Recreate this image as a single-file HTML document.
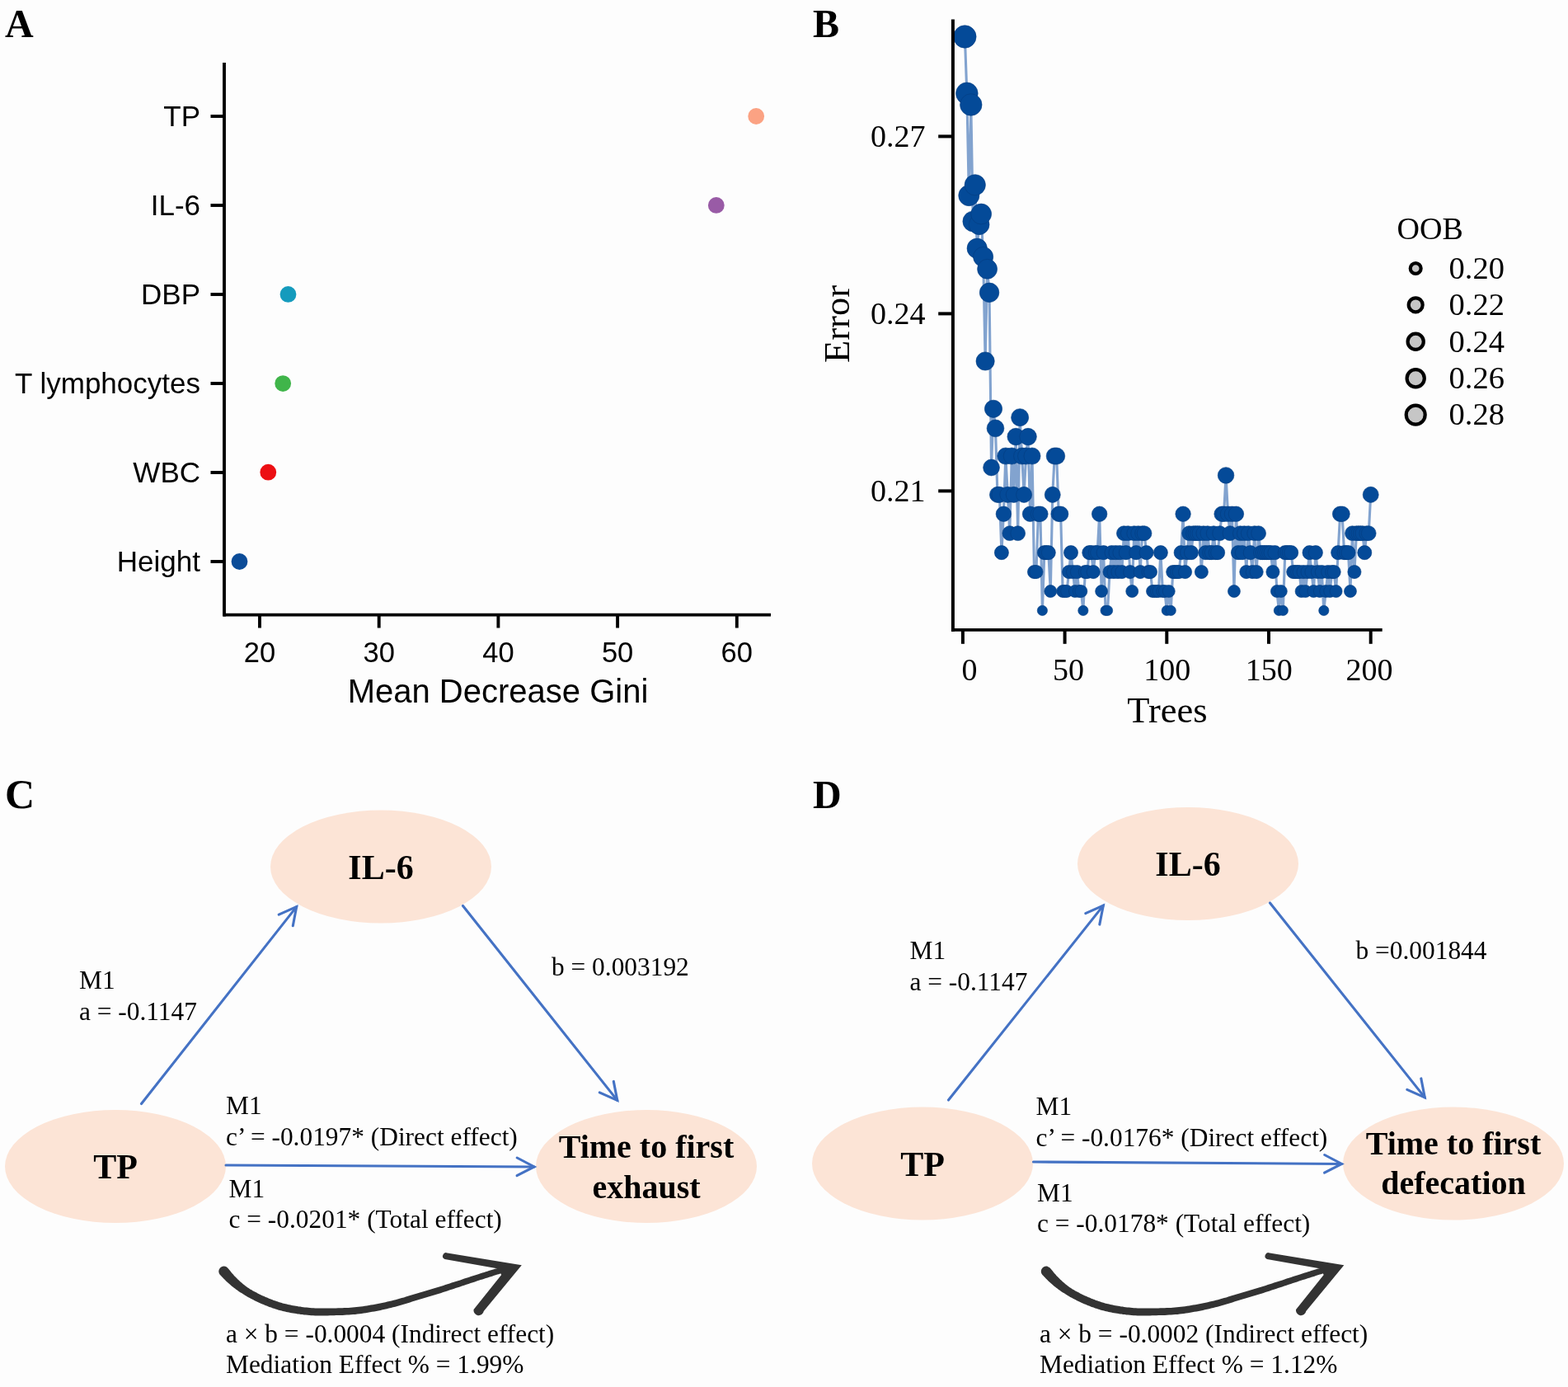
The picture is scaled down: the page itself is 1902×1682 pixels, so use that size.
<!DOCTYPE html>
<html><head><meta charset="utf-8"><title>Figure</title>
<style>html,body{margin:0;padding:0;background:#fdfdfd;} svg{display:block;}</style></head>
<body><svg width="1902" height="1682" viewBox="0 0 1902 1682">
<rect width="1902" height="1682" fill="#fdfdfd"/>
<text x="6" y="45" font-family="'Liberation Serif', 'Times New Roman', serif" font-weight="bold" font-size="48">A</text>
<line x1="272.0" y1="76" x2="272.0" y2="747.5" stroke="#000" stroke-width="3.9"/>
<line x1="270.7" y1="745.6" x2="935" y2="745.6" stroke="#000" stroke-width="3.9"/>
<line x1="255.5" y1="141.0" x2="272.0" y2="141.0" stroke="#000" stroke-width="3.9"/>
<text x="243" y="153.3" text-anchor="end" font-family="'Liberation Sans', Arial, sans-serif" font-size="35">TP</text>
<line x1="255.5" y1="249.0" x2="272.0" y2="249.0" stroke="#000" stroke-width="3.9"/>
<text x="243" y="261.3" text-anchor="end" font-family="'Liberation Sans', Arial, sans-serif" font-size="35">IL-6</text>
<line x1="255.5" y1="357.0" x2="272.0" y2="357.0" stroke="#000" stroke-width="3.9"/>
<text x="243" y="369.3" text-anchor="end" font-family="'Liberation Sans', Arial, sans-serif" font-size="35">DBP</text>
<line x1="255.5" y1="465.0" x2="272.0" y2="465.0" stroke="#000" stroke-width="3.9"/>
<text x="243" y="477.3" text-anchor="end" font-family="'Liberation Sans', Arial, sans-serif" font-size="35">T lymphocytes</text>
<line x1="255.5" y1="573.0" x2="272.0" y2="573.0" stroke="#000" stroke-width="3.9"/>
<text x="243" y="585.3" text-anchor="end" font-family="'Liberation Sans', Arial, sans-serif" font-size="35">WBC</text>
<line x1="255.5" y1="681.0" x2="272.0" y2="681.0" stroke="#000" stroke-width="3.9"/>
<text x="243" y="693.3" text-anchor="end" font-family="'Liberation Sans', Arial, sans-serif" font-size="35">Height</text>
<line x1="315.0" y1="745.6" x2="315.0" y2="761.5" stroke="#000" stroke-width="3.9"/>
<text x="315.0" y="802.5" text-anchor="middle" font-family="'Liberation Sans', Arial, sans-serif" font-size="34.5">20</text>
<line x1="459.7" y1="745.6" x2="459.7" y2="761.5" stroke="#000" stroke-width="3.9"/>
<text x="459.7" y="802.5" text-anchor="middle" font-family="'Liberation Sans', Arial, sans-serif" font-size="34.5">30</text>
<line x1="604.4" y1="745.6" x2="604.4" y2="761.5" stroke="#000" stroke-width="3.9"/>
<text x="604.4" y="802.5" text-anchor="middle" font-family="'Liberation Sans', Arial, sans-serif" font-size="34.5">40</text>
<line x1="749.1" y1="745.6" x2="749.1" y2="761.5" stroke="#000" stroke-width="3.9"/>
<text x="749.1" y="802.5" text-anchor="middle" font-family="'Liberation Sans', Arial, sans-serif" font-size="34.5">50</text>
<line x1="893.8" y1="745.6" x2="893.8" y2="761.5" stroke="#000" stroke-width="3.9"/>
<text x="893.8" y="802.5" text-anchor="middle" font-family="'Liberation Sans', Arial, sans-serif" font-size="34.5">60</text>
<text x="604" y="851.6" text-anchor="middle" font-family="'Liberation Sans', Arial, sans-serif" font-size="40">Mean Decrease Gini</text>
<circle cx="917.2" cy="141.0" r="9.9" fill="#fba283"/>
<circle cx="868.8" cy="248.9" r="9.9" fill="#995ba6"/>
<circle cx="349.5" cy="356.9" r="9.9" fill="#159bbd"/>
<circle cx="343.2" cy="465.1" r="9.9" fill="#40b54a"/>
<circle cx="325.3" cy="572.7" r="9.9" fill="#ec0f13"/>
<circle cx="290.5" cy="681.0" r="9.9" fill="#0b4c98"/>
<text x="986" y="45" font-family="'Liberation Serif', 'Times New Roman', serif" font-weight="bold" font-size="48">B</text>
<polyline points="1170.37,44.50 1172.85,113.30 1175.32,237.10 1177.80,127.00 1180.27,268.50 1182.74,224.30 1185.22,301.20 1187.69,272.30 1190.17,259.50 1192.64,311.50 1195.11,438.00 1197.59,326.30 1200.06,354.80 1202.54,567.00 1205.01,495.80 1207.48,519.40 1209.96,599.88 1212.43,599.88 1214.91,670.14 1217.38,623.30 1219.85,553.04 1222.33,599.88 1224.80,646.72 1227.28,553.04 1229.75,599.88 1232.22,529.62 1234.70,646.72 1237.17,506.20 1239.65,553.04 1242.12,599.88 1244.59,553.04 1247.07,529.62 1249.54,623.30 1252.02,553.04 1254.49,693.56 1256.96,693.56 1259.44,623.30 1261.91,623.30 1264.39,740.40 1266.86,670.14 1269.33,670.14 1271.81,670.14 1274.28,716.98 1276.76,599.88 1279.23,553.04 1281.70,553.04 1284.18,623.30 1286.65,623.30 1289.13,716.98 1291.60,716.98 1294.07,716.98 1296.55,693.56 1299.02,670.14 1301.50,693.56 1303.97,716.98 1306.44,693.56 1308.92,716.98 1311.39,716.98 1313.87,740.40 1316.34,693.56 1318.81,693.56 1321.29,670.14 1323.76,670.14 1326.24,693.56 1328.71,670.14 1331.18,670.14 1333.66,623.30 1336.13,716.98 1338.61,670.14 1341.08,740.40 1343.55,740.40 1346.03,693.56 1348.50,670.14 1350.98,693.56 1353.45,670.14 1355.92,693.56 1358.40,670.14 1360.87,693.56 1363.35,646.72 1365.82,670.14 1368.29,646.72 1370.77,693.56 1373.24,716.98 1375.72,646.72 1378.19,670.14 1380.66,646.72 1383.14,693.56 1385.61,646.72 1388.09,646.72 1390.56,670.14 1393.03,693.56 1395.51,693.56 1397.98,716.98 1400.46,716.98 1402.93,716.98 1405.40,716.98 1407.88,670.14 1410.35,716.98 1412.83,716.98 1415.30,740.40 1417.77,716.98 1420.25,740.40 1422.72,693.56 1425.20,693.56 1427.67,693.56 1430.14,693.56 1432.62,670.14 1435.09,623.30 1437.57,693.56 1440.04,670.14 1442.51,646.72 1444.99,670.14 1447.46,646.72 1449.94,646.72 1452.41,646.72 1454.88,646.72 1457.36,693.56 1459.83,646.72 1462.31,670.14 1464.78,646.72 1467.25,670.14 1469.73,670.14 1472.20,646.72 1474.68,670.14 1477.15,670.14 1479.62,646.72 1482.10,623.30 1484.57,623.30 1487.05,576.46 1489.52,623.30 1491.99,646.72 1494.47,623.30 1496.94,716.98 1499.42,623.30 1501.89,670.14 1504.36,646.72 1506.84,670.14 1509.31,646.72 1511.79,693.56 1514.26,646.72 1516.73,670.14 1519.21,693.56 1521.68,646.72 1524.16,693.56 1526.63,646.72 1529.10,670.14 1531.58,670.14 1534.05,670.14 1536.53,670.14 1539.00,670.14 1541.47,670.14 1543.95,693.56 1546.42,670.14 1548.90,716.98 1551.37,740.40 1553.84,716.98 1556.32,740.40 1558.79,670.14 1561.27,670.14 1563.74,670.14 1566.21,670.14 1568.69,693.56 1571.16,693.56 1573.64,693.56 1576.11,693.56 1578.58,716.98 1581.06,693.56 1583.53,716.98 1586.01,693.56 1588.48,670.14 1590.95,693.56 1593.43,716.98 1595.90,670.14 1598.38,693.56 1600.85,716.98 1603.32,693.56 1605.80,740.40 1608.27,716.98 1610.75,693.56 1613.22,716.98 1615.69,693.56 1618.17,693.56 1620.64,716.98 1623.12,670.14 1625.59,623.30 1628.06,623.30 1630.54,670.14 1633.01,670.14 1635.49,670.14 1637.96,716.98 1640.43,646.72 1642.91,693.56 1645.38,646.72 1647.86,646.72 1650.33,646.72 1652.80,646.72 1655.28,670.14 1657.75,646.72 1660.23,646.72 1662.70,599.88" fill="none" stroke="#82a3cf" stroke-width="3.1" stroke-linejoin="round"/>
<circle cx="1170.37" cy="44.50" r="13.71" fill="#044a98" stroke="#033d80" stroke-width="0.6"/>
<circle cx="1172.85" cy="113.30" r="13.32" fill="#044a98" stroke="#033d80" stroke-width="0.6"/>
<circle cx="1175.32" cy="237.10" r="12.57" fill="#044a98" stroke="#033d80" stroke-width="0.6"/>
<circle cx="1177.80" cy="127.00" r="13.24" fill="#044a98" stroke="#033d80" stroke-width="0.6"/>
<circle cx="1180.27" cy="268.50" r="12.37" fill="#044a98" stroke="#033d80" stroke-width="0.6"/>
<circle cx="1182.74" cy="224.30" r="12.65" fill="#044a98" stroke="#033d80" stroke-width="0.6"/>
<circle cx="1185.22" cy="301.20" r="12.15" fill="#044a98" stroke="#033d80" stroke-width="0.6"/>
<circle cx="1187.69" cy="272.30" r="12.34" fill="#044a98" stroke="#033d80" stroke-width="0.6"/>
<circle cx="1190.17" cy="259.50" r="12.43" fill="#044a98" stroke="#033d80" stroke-width="0.6"/>
<circle cx="1192.64" cy="311.50" r="12.07" fill="#044a98" stroke="#033d80" stroke-width="0.6"/>
<circle cx="1195.11" cy="438.00" r="11.12" fill="#044a98" stroke="#033d80" stroke-width="0.6"/>
<circle cx="1197.59" cy="326.30" r="11.97" fill="#044a98" stroke="#033d80" stroke-width="0.6"/>
<circle cx="1200.06" cy="354.80" r="11.77" fill="#044a98" stroke="#033d80" stroke-width="0.6"/>
<circle cx="1202.54" cy="567.00" r="9.91" fill="#044a98" stroke="#033d80" stroke-width="0.6"/>
<circle cx="1205.01" cy="495.80" r="10.62" fill="#044a98" stroke="#033d80" stroke-width="0.6"/>
<circle cx="1207.48" cy="519.40" r="10.39" fill="#044a98" stroke="#033d80" stroke-width="0.6"/>
<circle cx="1209.96" cy="599.88" r="9.53" fill="#044a98" stroke="#033d80" stroke-width="0.6"/>
<circle cx="1212.43" cy="599.88" r="9.53" fill="#044a98" stroke="#033d80" stroke-width="0.6"/>
<circle cx="1214.91" cy="670.14" r="8.53" fill="#044a98" stroke="#033d80" stroke-width="0.6"/>
<circle cx="1217.38" cy="623.30" r="9.23" fill="#044a98" stroke="#033d80" stroke-width="0.6"/>
<circle cx="1219.85" cy="553.04" r="10.06" fill="#044a98" stroke="#033d80" stroke-width="0.6"/>
<circle cx="1222.33" cy="599.88" r="9.53" fill="#044a98" stroke="#033d80" stroke-width="0.6"/>
<circle cx="1224.80" cy="646.72" r="8.90" fill="#044a98" stroke="#033d80" stroke-width="0.6"/>
<circle cx="1227.28" cy="553.04" r="10.06" fill="#044a98" stroke="#033d80" stroke-width="0.6"/>
<circle cx="1229.75" cy="599.88" r="9.53" fill="#044a98" stroke="#033d80" stroke-width="0.6"/>
<circle cx="1232.22" cy="529.62" r="10.29" fill="#044a98" stroke="#033d80" stroke-width="0.6"/>
<circle cx="1234.70" cy="646.72" r="8.90" fill="#044a98" stroke="#033d80" stroke-width="0.6"/>
<circle cx="1237.17" cy="506.20" r="10.52" fill="#044a98" stroke="#033d80" stroke-width="0.6"/>
<circle cx="1239.65" cy="553.04" r="10.06" fill="#044a98" stroke="#033d80" stroke-width="0.6"/>
<circle cx="1242.12" cy="599.88" r="9.53" fill="#044a98" stroke="#033d80" stroke-width="0.6"/>
<circle cx="1244.59" cy="553.04" r="10.06" fill="#044a98" stroke="#033d80" stroke-width="0.6"/>
<circle cx="1247.07" cy="529.62" r="10.29" fill="#044a98" stroke="#033d80" stroke-width="0.6"/>
<circle cx="1249.54" cy="623.30" r="9.23" fill="#044a98" stroke="#033d80" stroke-width="0.6"/>
<circle cx="1252.02" cy="553.04" r="10.06" fill="#044a98" stroke="#033d80" stroke-width="0.6"/>
<circle cx="1254.49" cy="693.56" r="8.09" fill="#044a98" stroke="#033d80" stroke-width="0.6"/>
<circle cx="1256.96" cy="693.56" r="8.09" fill="#044a98" stroke="#033d80" stroke-width="0.6"/>
<circle cx="1259.44" cy="623.30" r="9.23" fill="#044a98" stroke="#033d80" stroke-width="0.6"/>
<circle cx="1261.91" cy="623.30" r="9.23" fill="#044a98" stroke="#033d80" stroke-width="0.6"/>
<circle cx="1264.39" cy="740.40" r="6.12" fill="#044a98" stroke="#033d80" stroke-width="0.6"/>
<circle cx="1266.86" cy="670.14" r="8.53" fill="#044a98" stroke="#033d80" stroke-width="0.6"/>
<circle cx="1269.33" cy="670.14" r="8.53" fill="#044a98" stroke="#033d80" stroke-width="0.6"/>
<circle cx="1271.81" cy="670.14" r="8.53" fill="#044a98" stroke="#033d80" stroke-width="0.6"/>
<circle cx="1274.28" cy="716.98" r="7.51" fill="#044a98" stroke="#033d80" stroke-width="0.6"/>
<circle cx="1276.76" cy="599.88" r="9.53" fill="#044a98" stroke="#033d80" stroke-width="0.6"/>
<circle cx="1279.23" cy="553.04" r="10.06" fill="#044a98" stroke="#033d80" stroke-width="0.6"/>
<circle cx="1281.70" cy="553.04" r="10.06" fill="#044a98" stroke="#033d80" stroke-width="0.6"/>
<circle cx="1284.18" cy="623.30" r="9.23" fill="#044a98" stroke="#033d80" stroke-width="0.6"/>
<circle cx="1286.65" cy="623.30" r="9.23" fill="#044a98" stroke="#033d80" stroke-width="0.6"/>
<circle cx="1289.13" cy="716.98" r="7.51" fill="#044a98" stroke="#033d80" stroke-width="0.6"/>
<circle cx="1291.60" cy="716.98" r="7.51" fill="#044a98" stroke="#033d80" stroke-width="0.6"/>
<circle cx="1294.07" cy="716.98" r="7.51" fill="#044a98" stroke="#033d80" stroke-width="0.6"/>
<circle cx="1296.55" cy="693.56" r="8.09" fill="#044a98" stroke="#033d80" stroke-width="0.6"/>
<circle cx="1299.02" cy="670.14" r="8.53" fill="#044a98" stroke="#033d80" stroke-width="0.6"/>
<circle cx="1301.50" cy="693.56" r="8.09" fill="#044a98" stroke="#033d80" stroke-width="0.6"/>
<circle cx="1303.97" cy="716.98" r="7.51" fill="#044a98" stroke="#033d80" stroke-width="0.6"/>
<circle cx="1306.44" cy="693.56" r="8.09" fill="#044a98" stroke="#033d80" stroke-width="0.6"/>
<circle cx="1308.92" cy="716.98" r="7.51" fill="#044a98" stroke="#033d80" stroke-width="0.6"/>
<circle cx="1311.39" cy="716.98" r="7.51" fill="#044a98" stroke="#033d80" stroke-width="0.6"/>
<circle cx="1313.87" cy="740.40" r="6.12" fill="#044a98" stroke="#033d80" stroke-width="0.6"/>
<circle cx="1316.34" cy="693.56" r="8.09" fill="#044a98" stroke="#033d80" stroke-width="0.6"/>
<circle cx="1318.81" cy="693.56" r="8.09" fill="#044a98" stroke="#033d80" stroke-width="0.6"/>
<circle cx="1321.29" cy="670.14" r="8.53" fill="#044a98" stroke="#033d80" stroke-width="0.6"/>
<circle cx="1323.76" cy="670.14" r="8.53" fill="#044a98" stroke="#033d80" stroke-width="0.6"/>
<circle cx="1326.24" cy="693.56" r="8.09" fill="#044a98" stroke="#033d80" stroke-width="0.6"/>
<circle cx="1328.71" cy="670.14" r="8.53" fill="#044a98" stroke="#033d80" stroke-width="0.6"/>
<circle cx="1331.18" cy="670.14" r="8.53" fill="#044a98" stroke="#033d80" stroke-width="0.6"/>
<circle cx="1333.66" cy="623.30" r="9.23" fill="#044a98" stroke="#033d80" stroke-width="0.6"/>
<circle cx="1336.13" cy="716.98" r="7.51" fill="#044a98" stroke="#033d80" stroke-width="0.6"/>
<circle cx="1338.61" cy="670.14" r="8.53" fill="#044a98" stroke="#033d80" stroke-width="0.6"/>
<circle cx="1341.08" cy="740.40" r="6.12" fill="#044a98" stroke="#033d80" stroke-width="0.6"/>
<circle cx="1343.55" cy="740.40" r="6.12" fill="#044a98" stroke="#033d80" stroke-width="0.6"/>
<circle cx="1346.03" cy="693.56" r="8.09" fill="#044a98" stroke="#033d80" stroke-width="0.6"/>
<circle cx="1348.50" cy="670.14" r="8.53" fill="#044a98" stroke="#033d80" stroke-width="0.6"/>
<circle cx="1350.98" cy="693.56" r="8.09" fill="#044a98" stroke="#033d80" stroke-width="0.6"/>
<circle cx="1353.45" cy="670.14" r="8.53" fill="#044a98" stroke="#033d80" stroke-width="0.6"/>
<circle cx="1355.92" cy="693.56" r="8.09" fill="#044a98" stroke="#033d80" stroke-width="0.6"/>
<circle cx="1358.40" cy="670.14" r="8.53" fill="#044a98" stroke="#033d80" stroke-width="0.6"/>
<circle cx="1360.87" cy="693.56" r="8.09" fill="#044a98" stroke="#033d80" stroke-width="0.6"/>
<circle cx="1363.35" cy="646.72" r="8.90" fill="#044a98" stroke="#033d80" stroke-width="0.6"/>
<circle cx="1365.82" cy="670.14" r="8.53" fill="#044a98" stroke="#033d80" stroke-width="0.6"/>
<circle cx="1368.29" cy="646.72" r="8.90" fill="#044a98" stroke="#033d80" stroke-width="0.6"/>
<circle cx="1370.77" cy="693.56" r="8.09" fill="#044a98" stroke="#033d80" stroke-width="0.6"/>
<circle cx="1373.24" cy="716.98" r="7.51" fill="#044a98" stroke="#033d80" stroke-width="0.6"/>
<circle cx="1375.72" cy="646.72" r="8.90" fill="#044a98" stroke="#033d80" stroke-width="0.6"/>
<circle cx="1378.19" cy="670.14" r="8.53" fill="#044a98" stroke="#033d80" stroke-width="0.6"/>
<circle cx="1380.66" cy="646.72" r="8.90" fill="#044a98" stroke="#033d80" stroke-width="0.6"/>
<circle cx="1383.14" cy="693.56" r="8.09" fill="#044a98" stroke="#033d80" stroke-width="0.6"/>
<circle cx="1385.61" cy="646.72" r="8.90" fill="#044a98" stroke="#033d80" stroke-width="0.6"/>
<circle cx="1388.09" cy="646.72" r="8.90" fill="#044a98" stroke="#033d80" stroke-width="0.6"/>
<circle cx="1390.56" cy="670.14" r="8.53" fill="#044a98" stroke="#033d80" stroke-width="0.6"/>
<circle cx="1393.03" cy="693.56" r="8.09" fill="#044a98" stroke="#033d80" stroke-width="0.6"/>
<circle cx="1395.51" cy="693.56" r="8.09" fill="#044a98" stroke="#033d80" stroke-width="0.6"/>
<circle cx="1397.98" cy="716.98" r="7.51" fill="#044a98" stroke="#033d80" stroke-width="0.6"/>
<circle cx="1400.46" cy="716.98" r="7.51" fill="#044a98" stroke="#033d80" stroke-width="0.6"/>
<circle cx="1402.93" cy="716.98" r="7.51" fill="#044a98" stroke="#033d80" stroke-width="0.6"/>
<circle cx="1405.40" cy="716.98" r="7.51" fill="#044a98" stroke="#033d80" stroke-width="0.6"/>
<circle cx="1407.88" cy="670.14" r="8.53" fill="#044a98" stroke="#033d80" stroke-width="0.6"/>
<circle cx="1410.35" cy="716.98" r="7.51" fill="#044a98" stroke="#033d80" stroke-width="0.6"/>
<circle cx="1412.83" cy="716.98" r="7.51" fill="#044a98" stroke="#033d80" stroke-width="0.6"/>
<circle cx="1415.30" cy="740.40" r="6.12" fill="#044a98" stroke="#033d80" stroke-width="0.6"/>
<circle cx="1417.77" cy="716.98" r="7.51" fill="#044a98" stroke="#033d80" stroke-width="0.6"/>
<circle cx="1420.25" cy="740.40" r="6.12" fill="#044a98" stroke="#033d80" stroke-width="0.6"/>
<circle cx="1422.72" cy="693.56" r="8.09" fill="#044a98" stroke="#033d80" stroke-width="0.6"/>
<circle cx="1425.20" cy="693.56" r="8.09" fill="#044a98" stroke="#033d80" stroke-width="0.6"/>
<circle cx="1427.67" cy="693.56" r="8.09" fill="#044a98" stroke="#033d80" stroke-width="0.6"/>
<circle cx="1430.14" cy="693.56" r="8.09" fill="#044a98" stroke="#033d80" stroke-width="0.6"/>
<circle cx="1432.62" cy="670.14" r="8.53" fill="#044a98" stroke="#033d80" stroke-width="0.6"/>
<circle cx="1435.09" cy="623.30" r="9.23" fill="#044a98" stroke="#033d80" stroke-width="0.6"/>
<circle cx="1437.57" cy="693.56" r="8.09" fill="#044a98" stroke="#033d80" stroke-width="0.6"/>
<circle cx="1440.04" cy="670.14" r="8.53" fill="#044a98" stroke="#033d80" stroke-width="0.6"/>
<circle cx="1442.51" cy="646.72" r="8.90" fill="#044a98" stroke="#033d80" stroke-width="0.6"/>
<circle cx="1444.99" cy="670.14" r="8.53" fill="#044a98" stroke="#033d80" stroke-width="0.6"/>
<circle cx="1447.46" cy="646.72" r="8.90" fill="#044a98" stroke="#033d80" stroke-width="0.6"/>
<circle cx="1449.94" cy="646.72" r="8.90" fill="#044a98" stroke="#033d80" stroke-width="0.6"/>
<circle cx="1452.41" cy="646.72" r="8.90" fill="#044a98" stroke="#033d80" stroke-width="0.6"/>
<circle cx="1454.88" cy="646.72" r="8.90" fill="#044a98" stroke="#033d80" stroke-width="0.6"/>
<circle cx="1457.36" cy="693.56" r="8.09" fill="#044a98" stroke="#033d80" stroke-width="0.6"/>
<circle cx="1459.83" cy="646.72" r="8.90" fill="#044a98" stroke="#033d80" stroke-width="0.6"/>
<circle cx="1462.31" cy="670.14" r="8.53" fill="#044a98" stroke="#033d80" stroke-width="0.6"/>
<circle cx="1464.78" cy="646.72" r="8.90" fill="#044a98" stroke="#033d80" stroke-width="0.6"/>
<circle cx="1467.25" cy="670.14" r="8.53" fill="#044a98" stroke="#033d80" stroke-width="0.6"/>
<circle cx="1469.73" cy="670.14" r="8.53" fill="#044a98" stroke="#033d80" stroke-width="0.6"/>
<circle cx="1472.20" cy="646.72" r="8.90" fill="#044a98" stroke="#033d80" stroke-width="0.6"/>
<circle cx="1474.68" cy="670.14" r="8.53" fill="#044a98" stroke="#033d80" stroke-width="0.6"/>
<circle cx="1477.15" cy="670.14" r="8.53" fill="#044a98" stroke="#033d80" stroke-width="0.6"/>
<circle cx="1479.62" cy="646.72" r="8.90" fill="#044a98" stroke="#033d80" stroke-width="0.6"/>
<circle cx="1482.10" cy="623.30" r="9.23" fill="#044a98" stroke="#033d80" stroke-width="0.6"/>
<circle cx="1484.57" cy="623.30" r="9.23" fill="#044a98" stroke="#033d80" stroke-width="0.6"/>
<circle cx="1487.05" cy="576.46" r="9.80" fill="#044a98" stroke="#033d80" stroke-width="0.6"/>
<circle cx="1489.52" cy="623.30" r="9.23" fill="#044a98" stroke="#033d80" stroke-width="0.6"/>
<circle cx="1491.99" cy="646.72" r="8.90" fill="#044a98" stroke="#033d80" stroke-width="0.6"/>
<circle cx="1494.47" cy="623.30" r="9.23" fill="#044a98" stroke="#033d80" stroke-width="0.6"/>
<circle cx="1496.94" cy="716.98" r="7.51" fill="#044a98" stroke="#033d80" stroke-width="0.6"/>
<circle cx="1499.42" cy="623.30" r="9.23" fill="#044a98" stroke="#033d80" stroke-width="0.6"/>
<circle cx="1501.89" cy="670.14" r="8.53" fill="#044a98" stroke="#033d80" stroke-width="0.6"/>
<circle cx="1504.36" cy="646.72" r="8.90" fill="#044a98" stroke="#033d80" stroke-width="0.6"/>
<circle cx="1506.84" cy="670.14" r="8.53" fill="#044a98" stroke="#033d80" stroke-width="0.6"/>
<circle cx="1509.31" cy="646.72" r="8.90" fill="#044a98" stroke="#033d80" stroke-width="0.6"/>
<circle cx="1511.79" cy="693.56" r="8.09" fill="#044a98" stroke="#033d80" stroke-width="0.6"/>
<circle cx="1514.26" cy="646.72" r="8.90" fill="#044a98" stroke="#033d80" stroke-width="0.6"/>
<circle cx="1516.73" cy="670.14" r="8.53" fill="#044a98" stroke="#033d80" stroke-width="0.6"/>
<circle cx="1519.21" cy="693.56" r="8.09" fill="#044a98" stroke="#033d80" stroke-width="0.6"/>
<circle cx="1521.68" cy="646.72" r="8.90" fill="#044a98" stroke="#033d80" stroke-width="0.6"/>
<circle cx="1524.16" cy="693.56" r="8.09" fill="#044a98" stroke="#033d80" stroke-width="0.6"/>
<circle cx="1526.63" cy="646.72" r="8.90" fill="#044a98" stroke="#033d80" stroke-width="0.6"/>
<circle cx="1529.10" cy="670.14" r="8.53" fill="#044a98" stroke="#033d80" stroke-width="0.6"/>
<circle cx="1531.58" cy="670.14" r="8.53" fill="#044a98" stroke="#033d80" stroke-width="0.6"/>
<circle cx="1534.05" cy="670.14" r="8.53" fill="#044a98" stroke="#033d80" stroke-width="0.6"/>
<circle cx="1536.53" cy="670.14" r="8.53" fill="#044a98" stroke="#033d80" stroke-width="0.6"/>
<circle cx="1539.00" cy="670.14" r="8.53" fill="#044a98" stroke="#033d80" stroke-width="0.6"/>
<circle cx="1541.47" cy="670.14" r="8.53" fill="#044a98" stroke="#033d80" stroke-width="0.6"/>
<circle cx="1543.95" cy="693.56" r="8.09" fill="#044a98" stroke="#033d80" stroke-width="0.6"/>
<circle cx="1546.42" cy="670.14" r="8.53" fill="#044a98" stroke="#033d80" stroke-width="0.6"/>
<circle cx="1548.90" cy="716.98" r="7.51" fill="#044a98" stroke="#033d80" stroke-width="0.6"/>
<circle cx="1551.37" cy="740.40" r="6.12" fill="#044a98" stroke="#033d80" stroke-width="0.6"/>
<circle cx="1553.84" cy="716.98" r="7.51" fill="#044a98" stroke="#033d80" stroke-width="0.6"/>
<circle cx="1556.32" cy="740.40" r="6.12" fill="#044a98" stroke="#033d80" stroke-width="0.6"/>
<circle cx="1558.79" cy="670.14" r="8.53" fill="#044a98" stroke="#033d80" stroke-width="0.6"/>
<circle cx="1561.27" cy="670.14" r="8.53" fill="#044a98" stroke="#033d80" stroke-width="0.6"/>
<circle cx="1563.74" cy="670.14" r="8.53" fill="#044a98" stroke="#033d80" stroke-width="0.6"/>
<circle cx="1566.21" cy="670.14" r="8.53" fill="#044a98" stroke="#033d80" stroke-width="0.6"/>
<circle cx="1568.69" cy="693.56" r="8.09" fill="#044a98" stroke="#033d80" stroke-width="0.6"/>
<circle cx="1571.16" cy="693.56" r="8.09" fill="#044a98" stroke="#033d80" stroke-width="0.6"/>
<circle cx="1573.64" cy="693.56" r="8.09" fill="#044a98" stroke="#033d80" stroke-width="0.6"/>
<circle cx="1576.11" cy="693.56" r="8.09" fill="#044a98" stroke="#033d80" stroke-width="0.6"/>
<circle cx="1578.58" cy="716.98" r="7.51" fill="#044a98" stroke="#033d80" stroke-width="0.6"/>
<circle cx="1581.06" cy="693.56" r="8.09" fill="#044a98" stroke="#033d80" stroke-width="0.6"/>
<circle cx="1583.53" cy="716.98" r="7.51" fill="#044a98" stroke="#033d80" stroke-width="0.6"/>
<circle cx="1586.01" cy="693.56" r="8.09" fill="#044a98" stroke="#033d80" stroke-width="0.6"/>
<circle cx="1588.48" cy="670.14" r="8.53" fill="#044a98" stroke="#033d80" stroke-width="0.6"/>
<circle cx="1590.95" cy="693.56" r="8.09" fill="#044a98" stroke="#033d80" stroke-width="0.6"/>
<circle cx="1593.43" cy="716.98" r="7.51" fill="#044a98" stroke="#033d80" stroke-width="0.6"/>
<circle cx="1595.90" cy="670.14" r="8.53" fill="#044a98" stroke="#033d80" stroke-width="0.6"/>
<circle cx="1598.38" cy="693.56" r="8.09" fill="#044a98" stroke="#033d80" stroke-width="0.6"/>
<circle cx="1600.85" cy="716.98" r="7.51" fill="#044a98" stroke="#033d80" stroke-width="0.6"/>
<circle cx="1603.32" cy="693.56" r="8.09" fill="#044a98" stroke="#033d80" stroke-width="0.6"/>
<circle cx="1605.80" cy="740.40" r="6.12" fill="#044a98" stroke="#033d80" stroke-width="0.6"/>
<circle cx="1608.27" cy="716.98" r="7.51" fill="#044a98" stroke="#033d80" stroke-width="0.6"/>
<circle cx="1610.75" cy="693.56" r="8.09" fill="#044a98" stroke="#033d80" stroke-width="0.6"/>
<circle cx="1613.22" cy="716.98" r="7.51" fill="#044a98" stroke="#033d80" stroke-width="0.6"/>
<circle cx="1615.69" cy="693.56" r="8.09" fill="#044a98" stroke="#033d80" stroke-width="0.6"/>
<circle cx="1618.17" cy="693.56" r="8.09" fill="#044a98" stroke="#033d80" stroke-width="0.6"/>
<circle cx="1620.64" cy="716.98" r="7.51" fill="#044a98" stroke="#033d80" stroke-width="0.6"/>
<circle cx="1623.12" cy="670.14" r="8.53" fill="#044a98" stroke="#033d80" stroke-width="0.6"/>
<circle cx="1625.59" cy="623.30" r="9.23" fill="#044a98" stroke="#033d80" stroke-width="0.6"/>
<circle cx="1628.06" cy="623.30" r="9.23" fill="#044a98" stroke="#033d80" stroke-width="0.6"/>
<circle cx="1630.54" cy="670.14" r="8.53" fill="#044a98" stroke="#033d80" stroke-width="0.6"/>
<circle cx="1633.01" cy="670.14" r="8.53" fill="#044a98" stroke="#033d80" stroke-width="0.6"/>
<circle cx="1635.49" cy="670.14" r="8.53" fill="#044a98" stroke="#033d80" stroke-width="0.6"/>
<circle cx="1637.96" cy="716.98" r="7.51" fill="#044a98" stroke="#033d80" stroke-width="0.6"/>
<circle cx="1640.43" cy="646.72" r="8.90" fill="#044a98" stroke="#033d80" stroke-width="0.6"/>
<circle cx="1642.91" cy="693.56" r="8.09" fill="#044a98" stroke="#033d80" stroke-width="0.6"/>
<circle cx="1645.38" cy="646.72" r="8.90" fill="#044a98" stroke="#033d80" stroke-width="0.6"/>
<circle cx="1647.86" cy="646.72" r="8.90" fill="#044a98" stroke="#033d80" stroke-width="0.6"/>
<circle cx="1650.33" cy="646.72" r="8.90" fill="#044a98" stroke="#033d80" stroke-width="0.6"/>
<circle cx="1652.80" cy="646.72" r="8.90" fill="#044a98" stroke="#033d80" stroke-width="0.6"/>
<circle cx="1655.28" cy="670.14" r="8.53" fill="#044a98" stroke="#033d80" stroke-width="0.6"/>
<circle cx="1657.75" cy="646.72" r="8.90" fill="#044a98" stroke="#033d80" stroke-width="0.6"/>
<circle cx="1660.23" cy="646.72" r="8.90" fill="#044a98" stroke="#033d80" stroke-width="0.6"/>
<circle cx="1662.70" cy="599.88" r="9.53" fill="#044a98" stroke="#033d80" stroke-width="0.6"/>
<line x1="1155.9" y1="23.5" x2="1155.9" y2="765.8" stroke="#000" stroke-width="4"/>
<line x1="1154" y1="763.9" x2="1676.7" y2="763.9" stroke="#000" stroke-width="3.8"/>
<line x1="1138.2" y1="165.4" x2="1156" y2="165.4" stroke="#000" stroke-width="4"/>
<text x="1122.5" y="178.3" text-anchor="end" font-family="'Liberation Serif', 'Times New Roman', serif" font-size="38">0.27</text>
<line x1="1138.2" y1="380.4" x2="1156" y2="380.4" stroke="#000" stroke-width="4"/>
<text x="1122.5" y="393.3" text-anchor="end" font-family="'Liberation Serif', 'Times New Roman', serif" font-size="38">0.24</text>
<line x1="1138.2" y1="595.4" x2="1156" y2="595.4" stroke="#000" stroke-width="4"/>
<text x="1122.5" y="608.3" text-anchor="end" font-family="'Liberation Serif', 'Times New Roman', serif" font-size="38">0.21</text>
<line x1="1167.9" y1="763.9" x2="1167.9" y2="780.8" stroke="#000" stroke-width="4"/>
<text x="1176" y="825" text-anchor="middle" font-family="'Liberation Serif', 'Times New Roman', serif" font-size="38">0</text>
<line x1="1291.6" y1="763.9" x2="1291.6" y2="780.8" stroke="#000" stroke-width="4"/>
<text x="1296" y="825" text-anchor="middle" font-family="'Liberation Serif', 'Times New Roman', serif" font-size="38">50</text>
<line x1="1415.3" y1="763.9" x2="1415.3" y2="780.8" stroke="#000" stroke-width="4"/>
<text x="1415.8" y="825" text-anchor="middle" font-family="'Liberation Serif', 'Times New Roman', serif" font-size="38">100</text>
<line x1="1539.0" y1="763.9" x2="1539.0" y2="780.8" stroke="#000" stroke-width="4"/>
<text x="1539.2" y="825" text-anchor="middle" font-family="'Liberation Serif', 'Times New Roman', serif" font-size="38">150</text>
<line x1="1662.7" y1="763.9" x2="1662.7" y2="780.8" stroke="#000" stroke-width="4"/>
<text x="1661" y="825" text-anchor="middle" font-family="'Liberation Serif', 'Times New Roman', serif" font-size="38">200</text>
<text x="1416" y="875.5" text-anchor="middle" font-family="'Liberation Serif', 'Times New Roman', serif" font-size="44.5">Trees</text>
<text transform="translate(1029.5,393) rotate(-90)" text-anchor="middle" font-family="'Liberation Serif', 'Times New Roman', serif" font-size="44.5">Error</text>
<text x="1694.5" y="290" font-family="'Liberation Serif', 'Times New Roman', serif" font-size="38">OOB</text>
<circle cx="1717.2" cy="325.5" r="6.45" fill="#c6c6c6" stroke="#000" stroke-width="4.2"/>
<text x="1757.5" y="337.8" font-family="'Liberation Serif', 'Times New Roman', serif" font-size="38.5">0.20</text>
<circle cx="1717.2" cy="369.8" r="8.50" fill="#c6c6c6" stroke="#000" stroke-width="4.2"/>
<text x="1757.5" y="382.1" font-family="'Liberation Serif', 'Times New Roman', serif" font-size="38.5">0.22</text>
<circle cx="1717.2" cy="414.2" r="9.60" fill="#c6c6c6" stroke="#000" stroke-width="4.2"/>
<text x="1757.5" y="426.5" font-family="'Liberation Serif', 'Times New Roman', serif" font-size="38.5">0.24</text>
<circle cx="1717.2" cy="458.7" r="10.60" fill="#c6c6c6" stroke="#000" stroke-width="4.2"/>
<text x="1757.5" y="471.0" font-family="'Liberation Serif', 'Times New Roman', serif" font-size="38.5">0.26</text>
<circle cx="1717.2" cy="503.1" r="11.50" fill="#c6c6c6" stroke="#000" stroke-width="4.2"/>
<text x="1757.5" y="515.4" font-family="'Liberation Serif', 'Times New Roman', serif" font-size="38.5">0.28</text>
<text x="6" y="979.5" font-family="'Liberation Serif', 'Times New Roman', serif" font-weight="bold" font-size="50">C</text>
<ellipse cx="462" cy="1051" rx="134" ry="68.5" fill="#fce4d6"/>
<ellipse cx="140" cy="1414.5" rx="134" ry="68.5" fill="#fce4d6"/>
<ellipse cx="784" cy="1414.5" rx="134" ry="68.5" fill="#fce4d6"/>
<text x="462" y="1065.5" text-anchor="middle" font-family="'Liberation Serif', 'Times New Roman', serif" font-weight="bold" font-size="42">IL-6</text>
<text x="140" y="1429.0" text-anchor="middle" font-family="'Liberation Serif', 'Times New Roman', serif" font-weight="bold" font-size="42">TP</text>
<text x="784" y="1404" text-anchor="middle" font-family="'Liberation Serif', 'Times New Roman', serif" font-weight="bold" font-size="40">Time to first</text>
<text x="784" y="1452.5" text-anchor="middle" font-family="'Liberation Serif', 'Times New Roman', serif" font-weight="bold" font-size="40">exhaust</text>
<line x1="171.5" y1="1338.5" x2="359.7" y2="1099.6" stroke="#4472c4" stroke-width="3.1" stroke-linecap="round"/>
<path d="M338.2 1109.2 L359.7 1099.6 L355.3 1122.7" fill="none" stroke="#4472c4" stroke-width="3.1" stroke-linecap="round" stroke-linejoin="miter" stroke-miterlimit="10"/>
<line x1="561.5" y1="1098.5" x2="748.8" y2="1334.4" stroke="#4472c4" stroke-width="3.1" stroke-linecap="round"/>
<path d="M744.3 1311.4 L748.8 1334.4 L727.3 1324.9" fill="none" stroke="#4472c4" stroke-width="3.1" stroke-linecap="round" stroke-linejoin="miter" stroke-miterlimit="10"/>
<line x1="274" y1="1413" x2="648.0" y2="1415.0" stroke="#4472c4" stroke-width="3.1" stroke-linecap="round"/>
<path d="M627.2 1404.0 L648.0 1415.0 L627.1 1425.7" fill="none" stroke="#4472c4" stroke-width="3.1" stroke-linecap="round" stroke-linejoin="miter" stroke-miterlimit="10"/>
<text x="96" y="1199" font-family="'Liberation Serif', 'Times New Roman', serif" font-size="31.4">M1</text>
<text x="96" y="1236.5" font-family="'Liberation Serif', 'Times New Roman', serif" font-size="31.4">a = -0.1147</text>
<text x="669" y="1182.5" font-family="'Liberation Serif', 'Times New Roman', serif" font-size="31.4">b = 0.003192</text>
<text x="274" y="1351" font-family="'Liberation Serif', 'Times New Roman', serif" font-size="31.4">M1</text>
<text x="274" y="1389" font-family="'Liberation Serif', 'Times New Roman', serif" font-size="31.4">c’ = -0.0197* (Direct effect)</text>
<text x="277.5" y="1451.5" font-family="'Liberation Serif', 'Times New Roman', serif" font-size="31.4">M1</text>
<text x="277.5" y="1489" font-family="'Liberation Serif', 'Times New Roman', serif" font-size="31.4">c = -0.0201* (Total effect)</text>
<text x="274" y="1627.5" font-family="'Liberation Serif', 'Times New Roman', serif" font-size="31.4">a × b = -0.0004 (Indirect effect)</text>
<text x="274" y="1665" font-family="'Liberation Serif', 'Times New Roman', serif" font-size="31.4">Mediation Effect % = 1.99%</text>
<path d="M266.9 1546.0 L267.5 1546.6 L268.2 1547.3 L269.1 1548.2 L270.1 1549.3 L271.2 1550.4 L272.3 1551.5 L273.5 1552.7 L274.7 1553.9 L275.9 1555.0 L277.0 1556.1 L278.2 1557.1 L279.3 1558.0 L280.4 1559.0 L281.5 1559.9 L282.7 1560.8 L283.8 1561.7 L285.0 1562.6 L286.1 1563.4 L287.2 1564.3 L288.4 1565.1 L289.5 1565.9 L290.7 1566.7 L291.8 1567.4 L293.0 1568.1 L294.1 1568.8 L295.2 1569.5 L296.4 1570.2 L297.5 1570.9 L298.5 1571.5 L299.6 1572.2 L300.8 1572.9 L301.9 1573.5 L303.0 1574.1 L304.1 1574.7 L305.2 1575.2 L306.2 1575.8 L307.3 1576.3 L308.4 1576.9 L309.5 1577.4 L310.5 1577.9 L311.6 1578.4 L312.7 1578.9 L313.7 1579.4 L314.8 1579.9 L315.9 1580.4 L317.0 1580.9 L318.1 1581.4 L319.1 1581.8 L320.2 1582.3 L321.3 1582.7 L322.4 1583.2 L323.5 1583.6 L324.5 1584.0 L325.6 1584.4 L326.7 1584.9 L327.8 1585.3 L328.9 1585.6 L329.9 1586.0 L331.0 1586.4 L332.1 1586.8 L333.2 1587.1 L334.2 1587.4 L335.2 1587.8 L336.2 1588.1 L337.2 1588.4 L338.2 1588.7 L339.3 1589.0 L340.5 1589.3 L341.7 1589.6 L343.0 1589.9 L344.4 1590.3 L345.8 1590.6 L347.3 1590.9 L348.9 1591.2 L350.5 1591.6 L352.1 1591.9 L353.8 1592.2 L355.6 1592.5 L357.4 1592.8 L359.2 1593.1 L361.1 1593.4 L362.9 1593.6 L364.8 1593.9 L366.8 1594.1 L368.8 1594.4 L370.9 1594.6 L373.0 1594.8 L375.2 1595.0 L377.5 1595.2 L379.8 1595.3 L382.2 1595.4 L384.6 1595.4 L387.1 1595.5 L389.7 1595.5 L392.3 1595.4 L394.9 1595.4 L397.5 1595.4 L400.2 1595.3 L402.7 1595.3 L405.3 1595.2 L407.8 1595.1 L410.4 1595.0 L412.9 1595.0 L415.5 1594.9 L418.0 1594.8 L420.6 1594.6 L423.2 1594.5 L425.7 1594.3 L428.3 1594.1 L430.9 1593.9 L433.5 1593.6 L436.1 1593.3 L438.6 1592.9 L441.2 1592.5 L443.7 1592.2 L446.3 1591.7 L448.8 1591.3 L451.4 1590.8 L453.9 1590.4 L456.5 1589.9 L459.0 1589.4 L461.6 1588.9 L464.1 1588.3 L466.7 1587.8 L469.2 1587.2 L471.7 1586.6 L474.3 1586.0 L476.8 1585.3 L479.4 1584.7 L481.9 1584.0 L484.5 1583.3 L487.1 1582.6 L489.6 1581.8 L492.2 1581.0 L494.7 1580.2 L497.3 1579.4 L499.8 1578.6 L502.3 1577.8 L504.8 1577.1 L507.3 1576.3 L509.8 1575.5 L512.4 1574.8 L514.9 1574.0 L517.4 1573.3 L519.9 1572.5 L522.4 1571.8 L525.0 1571.0 L527.5 1570.3 L530.0 1569.5 L532.6 1568.7 L535.1 1567.9 L537.6 1567.1 L540.2 1566.3 L542.7 1565.4 L545.2 1564.6 L547.8 1563.8 L550.3 1562.9 L552.8 1562.1 L555.4 1561.3 L557.9 1560.4 L560.4 1559.6 L563.0 1558.7 L565.7 1557.8 L568.3 1557.0 L570.9 1556.1 L573.5 1555.2 L576.0 1554.4 L578.4 1553.6 L580.8 1552.8 L583.0 1552.1 L585.2 1551.4 L587.3 1550.7 L589.4 1550.0 L591.4 1549.4 L593.3 1548.8 L595.2 1548.2 L597.0 1547.7 L598.7 1547.1 L600.3 1546.6 L601.9 1546.1 L603.4 1545.6 L604.8 1545.2 L606.2 1544.7 L607.5 1544.3 L608.7 1543.9 L609.8 1543.6 L610.8 1543.2 L611.7 1542.9 L612.5 1542.7 L613.1 1542.5 L610.9 1535.5 L610.2 1535.7 L609.5 1536.0 L608.6 1536.3 L607.6 1536.6 L606.5 1536.9 L605.2 1537.3 L604.0 1537.7 L602.6 1538.2 L601.2 1538.6 L599.7 1539.1 L598.2 1539.6 L596.5 1540.1 L594.8 1540.6 L593.0 1541.1 L591.1 1541.7 L589.2 1542.3 L587.2 1542.9 L585.1 1543.6 L582.9 1544.2 L580.8 1544.9 L578.5 1545.7 L576.1 1546.4 L573.6 1547.2 L571.1 1548.1 L568.5 1548.9 L565.9 1549.8 L563.3 1550.6 L560.7 1551.5 L558.1 1552.4 L555.5 1553.2 L553.0 1554.0 L550.5 1554.8 L547.9 1555.6 L545.4 1556.5 L542.9 1557.3 L540.3 1558.1 L537.8 1558.9 L535.3 1559.7 L532.8 1560.5 L530.2 1561.3 L527.7 1562.1 L525.2 1562.8 L522.7 1563.6 L520.2 1564.3 L517.7 1565.0 L515.2 1565.8 L512.7 1566.5 L510.1 1567.2 L507.6 1568.0 L505.1 1568.7 L502.5 1569.5 L500.0 1570.3 L497.4 1571.0 L494.9 1571.8 L492.4 1572.6 L489.9 1573.4 L487.3 1574.1 L484.8 1574.8 L482.3 1575.5 L479.9 1576.2 L477.4 1576.8 L474.9 1577.4 L472.4 1578.0 L469.9 1578.6 L467.4 1579.2 L464.9 1579.7 L462.4 1580.3 L459.9 1580.8 L457.4 1581.2 L454.9 1581.7 L452.4 1582.2 L449.9 1582.6 L447.4 1583.0 L444.9 1583.4 L442.5 1583.8 L440.0 1584.2 L437.5 1584.5 L435.0 1584.8 L432.6 1585.1 L430.1 1585.3 L427.6 1585.6 L425.1 1585.7 L422.7 1585.9 L420.2 1586.0 L417.7 1586.1 L415.2 1586.2 L412.7 1586.3 L410.1 1586.3 L407.6 1586.4 L405.1 1586.4 L402.6 1586.5 L400.0 1586.5 L397.4 1586.5 L394.8 1586.6 L392.3 1586.6 L389.7 1586.6 L387.2 1586.5 L384.8 1586.5 L382.5 1586.4 L380.2 1586.3 L378.1 1586.2 L375.9 1586.0 L373.9 1585.8 L371.9 1585.6 L369.9 1585.4 L368.0 1585.2 L366.1 1584.9 L364.2 1584.6 L362.4 1584.4 L360.6 1584.1 L358.9 1583.8 L357.2 1583.5 L355.5 1583.2 L353.9 1582.9 L352.3 1582.6 L350.8 1582.3 L349.3 1581.9 L347.9 1581.6 L346.5 1581.3 L345.2 1581.0 L344.0 1580.7 L342.8 1580.4 L341.8 1580.1 L340.8 1579.8 L339.9 1579.5 L338.9 1579.2 L338.0 1578.9 L337.1 1578.6 L336.1 1578.3 L335.1 1577.9 L334.1 1577.6 L333.1 1577.2 L332.0 1576.9 L331.0 1576.5 L330.0 1576.1 L329.0 1575.7 L328.0 1575.3 L326.9 1574.9 L325.9 1574.5 L324.9 1574.1 L323.9 1573.6 L322.9 1573.2 L321.8 1572.7 L320.8 1572.3 L319.8 1571.8 L318.8 1571.4 L317.8 1570.9 L316.7 1570.4 L315.7 1569.9 L314.7 1569.4 L313.6 1568.9 L312.6 1568.4 L311.6 1567.8 L310.6 1567.3 L309.6 1566.8 L308.5 1566.3 L307.5 1565.7 L306.5 1565.2 L305.6 1564.6 L304.6 1564.0 L303.5 1563.4 L302.5 1562.7 L301.5 1562.1 L300.5 1561.4 L299.5 1560.7 L298.5 1560.0 L297.5 1559.2 L296.6 1558.5 L295.6 1557.7 L294.6 1556.9 L293.6 1556.1 L292.7 1555.2 L291.7 1554.4 L290.7 1553.5 L289.7 1552.6 L288.7 1551.7 L287.8 1550.7 L286.8 1549.8 L285.9 1548.8 L285.0 1547.9 L284.0 1546.9 L283.1 1545.8 L282.1 1544.7 L281.0 1543.5 L280.0 1542.3 L279.1 1541.1 L278.2 1540.1 L277.4 1539.1 L276.7 1538.2 L276.1 1537.6 A6.2 6.2 0 0 0 266.9 1546.0 Z" fill="#333"/>
<path d="M542.6 1519.5 L632.8 1534.3 L586.8 1590.1 A4.3 4.3 0 0 1 574.6 1588.0 L608.2 1546.0 L604.4 1538.4 L539.5 1526.9 A3.6 3.6 0 0 1 542.6 1519.5 Z" fill="#333"/>
<text x="986" y="979.5" font-family="'Liberation Serif', 'Times New Roman', serif" font-weight="bold" font-size="48">D</text>
<ellipse cx="1441" cy="1047.5" rx="134" ry="68.5" fill="#fce4d6"/>
<ellipse cx="1119" cy="1411" rx="134" ry="68.5" fill="#fce4d6"/>
<ellipse cx="1763" cy="1411" rx="134" ry="68.5" fill="#fce4d6"/>
<text x="1441" y="1062.0" text-anchor="middle" font-family="'Liberation Serif', 'Times New Roman', serif" font-weight="bold" font-size="42">IL-6</text>
<text x="1119" y="1425.5" text-anchor="middle" font-family="'Liberation Serif', 'Times New Roman', serif" font-weight="bold" font-size="42">TP</text>
<text x="1763" y="1400" text-anchor="middle" font-family="'Liberation Serif', 'Times New Roman', serif" font-weight="bold" font-size="40">Time to first</text>
<text x="1763" y="1447.5" text-anchor="middle" font-family="'Liberation Serif', 'Times New Roman', serif" font-weight="bold" font-size="40">defecation</text>
<line x1="1150.5" y1="1334" x2="1338.3" y2="1098.1" stroke="#4472c4" stroke-width="3.1" stroke-linecap="round"/>
<path d="M1316.8 1107.6 L1338.3 1098.1 L1333.8 1121.1" fill="none" stroke="#4472c4" stroke-width="3.1" stroke-linecap="round" stroke-linejoin="miter" stroke-miterlimit="10"/>
<line x1="1540.5" y1="1095" x2="1728.3" y2="1330.9" stroke="#4472c4" stroke-width="3.1" stroke-linecap="round"/>
<path d="M1723.8 1307.9 L1728.3 1330.9 L1706.8 1321.4" fill="none" stroke="#4472c4" stroke-width="3.1" stroke-linecap="round" stroke-linejoin="miter" stroke-miterlimit="10"/>
<line x1="1253.5" y1="1409" x2="1627.5" y2="1411.5" stroke="#4472c4" stroke-width="3.1" stroke-linecap="round"/>
<path d="M1606.7 1400.5 L1627.5 1411.5 L1606.6 1422.2" fill="none" stroke="#4472c4" stroke-width="3.1" stroke-linecap="round" stroke-linejoin="miter" stroke-miterlimit="10"/>
<text x="1103.5" y="1163" font-family="'Liberation Serif', 'Times New Roman', serif" font-size="31.4">M1</text>
<text x="1103.5" y="1200.5" font-family="'Liberation Serif', 'Times New Roman', serif" font-size="31.4">a = -0.1147</text>
<text x="1644.5" y="1162.5" font-family="'Liberation Serif', 'Times New Roman', serif" font-size="31.4">b =0.001844</text>
<text x="1256.5" y="1352" font-family="'Liberation Serif', 'Times New Roman', serif" font-size="31.4">M1</text>
<text x="1256.5" y="1390" font-family="'Liberation Serif', 'Times New Roman', serif" font-size="31.4">c’ = -0.0176* (Direct effect)</text>
<text x="1258" y="1456.5" font-family="'Liberation Serif', 'Times New Roman', serif" font-size="31.4">M1</text>
<text x="1258" y="1494" font-family="'Liberation Serif', 'Times New Roman', serif" font-size="31.4">c = -0.0178* (Total effect)</text>
<text x="1261" y="1627.5" font-family="'Liberation Serif', 'Times New Roman', serif" font-size="31.4">a × b = -0.0002 (Indirect effect)</text>
<text x="1261" y="1665" font-family="'Liberation Serif', 'Times New Roman', serif" font-size="31.4">Mediation Effect % = 1.12%</text>
<path d="M1264.4 1546.0 L1265.0 1546.6 L1265.7 1547.3 L1266.6 1548.2 L1267.6 1549.3 L1268.7 1550.4 L1269.8 1551.5 L1271.0 1552.7 L1272.2 1553.9 L1273.4 1555.0 L1274.5 1556.1 L1275.7 1557.1 L1276.8 1558.0 L1277.9 1559.0 L1279.0 1559.9 L1280.2 1560.8 L1281.3 1561.7 L1282.5 1562.6 L1283.6 1563.4 L1284.7 1564.3 L1285.9 1565.1 L1287.0 1565.9 L1288.2 1566.7 L1289.3 1567.4 L1290.5 1568.1 L1291.6 1568.8 L1292.7 1569.5 L1293.9 1570.2 L1295.0 1570.9 L1296.0 1571.5 L1297.1 1572.2 L1298.3 1572.9 L1299.4 1573.5 L1300.5 1574.1 L1301.6 1574.7 L1302.7 1575.2 L1303.7 1575.8 L1304.8 1576.3 L1305.9 1576.9 L1307.0 1577.4 L1308.0 1577.9 L1309.1 1578.4 L1310.2 1578.9 L1311.2 1579.4 L1312.3 1579.9 L1313.4 1580.4 L1314.5 1580.9 L1315.6 1581.4 L1316.6 1581.8 L1317.7 1582.3 L1318.8 1582.7 L1319.9 1583.2 L1321.0 1583.6 L1322.0 1584.0 L1323.1 1584.4 L1324.2 1584.9 L1325.3 1585.3 L1326.4 1585.6 L1327.4 1586.0 L1328.5 1586.4 L1329.6 1586.8 L1330.7 1587.1 L1331.7 1587.4 L1332.7 1587.8 L1333.7 1588.1 L1334.7 1588.4 L1335.7 1588.7 L1336.8 1589.0 L1338.0 1589.3 L1339.2 1589.6 L1340.5 1589.9 L1341.9 1590.3 L1343.3 1590.6 L1344.8 1590.9 L1346.4 1591.2 L1348.0 1591.6 L1349.6 1591.9 L1351.3 1592.2 L1353.1 1592.5 L1354.9 1592.8 L1356.7 1593.1 L1358.6 1593.4 L1360.4 1593.6 L1362.3 1593.9 L1364.3 1594.1 L1366.3 1594.4 L1368.4 1594.6 L1370.5 1594.8 L1372.7 1595.0 L1375.0 1595.2 L1377.3 1595.3 L1379.7 1595.4 L1382.1 1595.4 L1384.6 1595.5 L1387.2 1595.5 L1389.8 1595.4 L1392.4 1595.4 L1395.0 1595.4 L1397.7 1595.3 L1400.2 1595.3 L1402.8 1595.2 L1405.3 1595.1 L1407.9 1595.0 L1410.4 1595.0 L1413.0 1594.9 L1415.5 1594.8 L1418.1 1594.6 L1420.7 1594.5 L1423.2 1594.3 L1425.8 1594.1 L1428.4 1593.9 L1431.0 1593.6 L1433.6 1593.3 L1436.1 1592.9 L1438.7 1592.5 L1441.2 1592.2 L1443.8 1591.7 L1446.3 1591.3 L1448.9 1590.8 L1451.4 1590.4 L1454.0 1589.9 L1456.5 1589.4 L1459.1 1588.9 L1461.6 1588.3 L1464.2 1587.8 L1466.7 1587.2 L1469.2 1586.6 L1471.8 1586.0 L1474.3 1585.3 L1476.9 1584.7 L1479.4 1584.0 L1482.0 1583.3 L1484.6 1582.6 L1487.1 1581.8 L1489.7 1581.0 L1492.2 1580.2 L1494.8 1579.4 L1497.3 1578.6 L1499.8 1577.8 L1502.3 1577.1 L1504.8 1576.3 L1507.3 1575.5 L1509.9 1574.8 L1512.4 1574.0 L1514.9 1573.3 L1517.4 1572.5 L1519.9 1571.8 L1522.5 1571.0 L1525.0 1570.3 L1527.5 1569.5 L1530.1 1568.7 L1532.6 1567.9 L1535.1 1567.1 L1537.7 1566.3 L1540.2 1565.4 L1542.7 1564.6 L1545.3 1563.8 L1547.8 1562.9 L1550.3 1562.1 L1552.9 1561.3 L1555.4 1560.4 L1557.9 1559.6 L1560.5 1558.7 L1563.2 1557.8 L1565.8 1557.0 L1568.4 1556.1 L1571.0 1555.2 L1573.5 1554.4 L1575.9 1553.6 L1578.3 1552.8 L1580.5 1552.1 L1582.7 1551.4 L1584.8 1550.7 L1586.9 1550.0 L1588.9 1549.4 L1590.8 1548.8 L1592.7 1548.2 L1594.5 1547.7 L1596.2 1547.1 L1597.8 1546.6 L1599.4 1546.1 L1600.9 1545.6 L1602.3 1545.2 L1603.7 1544.7 L1605.0 1544.3 L1606.2 1543.9 L1607.3 1543.6 L1608.3 1543.2 L1609.2 1542.9 L1610.0 1542.7 L1610.6 1542.5 L1608.4 1535.5 L1607.7 1535.7 L1607.0 1536.0 L1606.1 1536.3 L1605.1 1536.6 L1604.0 1536.9 L1602.7 1537.3 L1601.5 1537.7 L1600.1 1538.2 L1598.7 1538.6 L1597.2 1539.1 L1595.7 1539.6 L1594.0 1540.1 L1592.3 1540.6 L1590.5 1541.1 L1588.6 1541.7 L1586.7 1542.3 L1584.7 1542.9 L1582.6 1543.6 L1580.4 1544.2 L1578.3 1544.9 L1576.0 1545.7 L1573.6 1546.4 L1571.1 1547.2 L1568.6 1548.1 L1566.0 1548.9 L1563.4 1549.8 L1560.8 1550.6 L1558.2 1551.5 L1555.6 1552.4 L1553.0 1553.2 L1550.5 1554.0 L1548.0 1554.8 L1545.4 1555.6 L1542.9 1556.5 L1540.4 1557.3 L1537.8 1558.1 L1535.3 1558.9 L1532.8 1559.7 L1530.3 1560.5 L1527.7 1561.3 L1525.2 1562.1 L1522.7 1562.8 L1520.2 1563.6 L1517.7 1564.3 L1515.2 1565.0 L1512.7 1565.8 L1510.2 1566.5 L1507.6 1567.2 L1505.1 1568.0 L1502.6 1568.7 L1500.0 1569.5 L1497.5 1570.3 L1494.9 1571.0 L1492.4 1571.8 L1489.9 1572.6 L1487.4 1573.4 L1484.8 1574.1 L1482.3 1574.8 L1479.8 1575.5 L1477.4 1576.2 L1474.9 1576.8 L1472.4 1577.4 L1469.9 1578.0 L1467.4 1578.6 L1464.9 1579.2 L1462.4 1579.7 L1459.9 1580.3 L1457.4 1580.8 L1454.9 1581.2 L1452.4 1581.7 L1449.9 1582.2 L1447.4 1582.6 L1444.9 1583.0 L1442.4 1583.4 L1440.0 1583.8 L1437.5 1584.2 L1435.0 1584.5 L1432.5 1584.8 L1430.1 1585.1 L1427.6 1585.3 L1425.1 1585.6 L1422.6 1585.7 L1420.2 1585.9 L1417.7 1586.0 L1415.2 1586.1 L1412.7 1586.2 L1410.2 1586.3 L1407.6 1586.3 L1405.1 1586.4 L1402.6 1586.4 L1400.1 1586.5 L1397.5 1586.5 L1394.9 1586.5 L1392.3 1586.6 L1389.8 1586.6 L1387.2 1586.6 L1384.7 1586.5 L1382.3 1586.5 L1380.0 1586.4 L1377.7 1586.3 L1375.6 1586.2 L1373.4 1586.0 L1371.4 1585.8 L1369.4 1585.6 L1367.4 1585.4 L1365.5 1585.2 L1363.6 1584.9 L1361.7 1584.6 L1359.9 1584.4 L1358.1 1584.1 L1356.4 1583.8 L1354.7 1583.5 L1353.0 1583.2 L1351.4 1582.9 L1349.8 1582.6 L1348.3 1582.3 L1346.8 1581.9 L1345.4 1581.6 L1344.0 1581.3 L1342.7 1581.0 L1341.5 1580.7 L1340.3 1580.4 L1339.3 1580.1 L1338.3 1579.8 L1337.4 1579.5 L1336.4 1579.2 L1335.5 1578.9 L1334.6 1578.6 L1333.6 1578.3 L1332.6 1577.9 L1331.6 1577.6 L1330.6 1577.2 L1329.5 1576.9 L1328.5 1576.5 L1327.5 1576.1 L1326.5 1575.7 L1325.5 1575.3 L1324.4 1574.9 L1323.4 1574.5 L1322.4 1574.1 L1321.4 1573.6 L1320.4 1573.2 L1319.3 1572.7 L1318.3 1572.3 L1317.3 1571.8 L1316.3 1571.4 L1315.3 1570.9 L1314.2 1570.4 L1313.2 1569.9 L1312.2 1569.4 L1311.1 1568.9 L1310.1 1568.4 L1309.1 1567.8 L1308.1 1567.3 L1307.1 1566.8 L1306.0 1566.3 L1305.0 1565.7 L1304.0 1565.2 L1303.1 1564.6 L1302.1 1564.0 L1301.0 1563.4 L1300.0 1562.7 L1299.0 1562.1 L1298.0 1561.4 L1297.0 1560.7 L1296.0 1560.0 L1295.0 1559.2 L1294.1 1558.5 L1293.1 1557.7 L1292.1 1556.9 L1291.1 1556.1 L1290.2 1555.2 L1289.2 1554.4 L1288.2 1553.5 L1287.2 1552.6 L1286.2 1551.7 L1285.3 1550.7 L1284.3 1549.8 L1283.4 1548.8 L1282.5 1547.9 L1281.5 1546.9 L1280.6 1545.8 L1279.6 1544.7 L1278.5 1543.5 L1277.5 1542.3 L1276.6 1541.1 L1275.7 1540.1 L1274.9 1539.1 L1274.2 1538.2 L1273.6 1537.6 A6.2 6.2 0 0 0 1264.4 1546.0 Z" fill="#333"/>
<path d="M1540.1 1519.5 L1630.3 1534.3 L1584.3 1590.1 A4.3 4.3 0 0 1 1572.1 1588.0 L1605.7 1546.0 L1601.9 1538.4 L1537.0 1526.9 A3.6 3.6 0 0 1 1540.1 1519.5 Z" fill="#333"/>
</svg></body></html>
